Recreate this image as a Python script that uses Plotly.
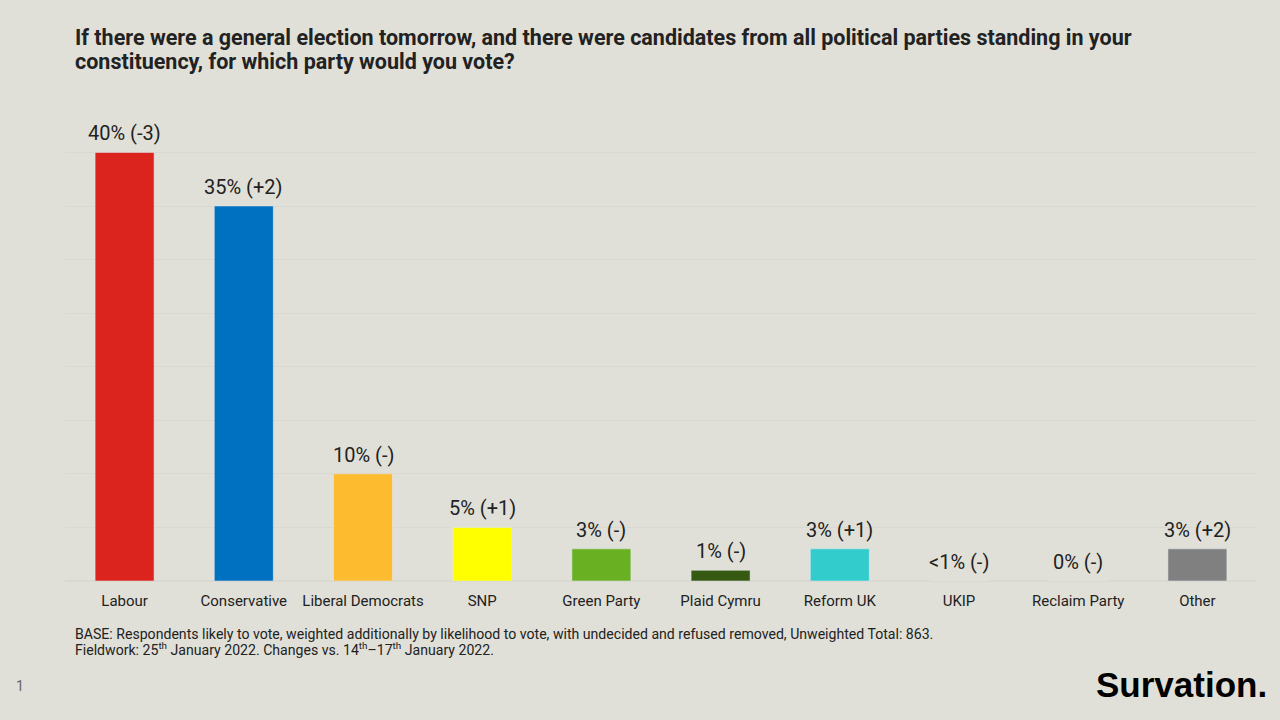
import plotly.graph_objects as go

parties = ["Labour", "Conservative", "Liberal Democrats", "SNP", "Green Party",
           "Plaid Cymru", "Reform UK", "UKIP", "Reclaim Party", "Other"]
values = [40, 35, 10, 5, 3, 1, 3, 0, 0, 3]
labels = ["40% (-3)", "35% (+2)", "10% (-)", "5% (+1)", "3% (-)",
          "1% (-)", "3% (+1)", "<1% (-)", "0% (-)", "3% (+2)"]
colors = ["#dc241f", "#0070c0", "#fdbb30", "#ffff00", "#6ab023",
          "#375a12", "#33cccc", "#70147a", "#5b2c83", "#808080"]

BG = "#e0e0d8"
FONT = "Roboto"
TXT = "#222222"

L, R, T, B = 65, 23, 131, 139
W, H = 1280, 720
pw, ph = W - L - R, H - T - B

def px(x):
    return (x - L) / pw

def py(y):
    return (H - B - y) / ph

fig = go.Figure(go.Bar(
    x=parties, y=values, marker_color=colors, width=0.495,
    hoverinfo="skip",
))

annotations = []
for p, v, lab in zip(parties, values, labels):
    annotations.append(dict(x=p, y=v, xref="x", yref="y", text=lab, showarrow=False,
                            yanchor="middle", yshift=19,
                            font=dict(size=20, color=TXT, family=FONT)))

annotations += [
    dict(xref="paper", yref="paper", x=px(73), y=py(38), xanchor="left", yanchor="middle",
         align="left", showarrow=False,
         text="<b>If there were a general election tomorrow, and there were candidates from all political parties standing in your</b>",
         font=dict(size=21.5, color=TXT, family=FONT)),
    dict(xref="paper", yref="paper", x=px(73), y=py(61), xanchor="left", yanchor="middle",
         align="left", showarrow=False,
         text="<b>constituency, for which party would you vote?</b>",
         font=dict(size=21.5, color=TXT, family=FONT)),
    dict(xref="paper", yref="paper", x=px(73), y=py(634), xanchor="left", yanchor="middle",
         align="left", showarrow=False,
         text="BASE: Respondents likely to vote, weighted additionally by likelihood to vote, with undecided and refused removed, Unweighted Total: 863.",
         font=dict(size=14.1, color=TXT, family=FONT)),
    dict(xref="paper", yref="paper", x=px(73), y=py(649), xanchor="left", yanchor="middle",
         align="left", showarrow=False,
         text="Fieldwork: 25<sup>th</sup> January 2022. Changes vs. 14<sup>th</sup>–17<sup>th</sup> January 2022.",
         font=dict(size=14.1, color=TXT, family=FONT)),
    dict(xref="paper", yref="paper", x=px(1269), y=py(684), xanchor="right", yanchor="middle",
         showarrow=False, text="<b>Survation.</b>",
         font=dict(size=35, color="#000000", family="Liberation Sans")),
    dict(xref="paper", yref="paper", x=px(20), y=py(686), xanchor="center", yanchor="middle",
         showarrow=False, text="1", font=dict(size=14, color="#666666", family=FONT)),
]

fig.update_layout(
    width=W, height=H, paper_bgcolor=BG, plot_bgcolor=BG,
    margin=dict(l=L, r=R, t=T, b=B),
    showlegend=False,
    font=dict(family=FONT, color=TXT),
    xaxis=dict(showgrid=False, showline=False, zeroline=False,
               ticks="outside", ticklen=6, tickcolor="rgba(0,0,0,0)",
               tickfont=dict(size=15, color=TXT, family=FONT)),
    yaxis=dict(range=[0, 42], dtick=5, showgrid=True, gridcolor="#d9d9d1",
               gridwidth=1, zeroline=True, zerolinecolor="#d9d9d1",
               showticklabels=False, showline=False),
    annotations=annotations,
)

fig.write_html("out.html")
